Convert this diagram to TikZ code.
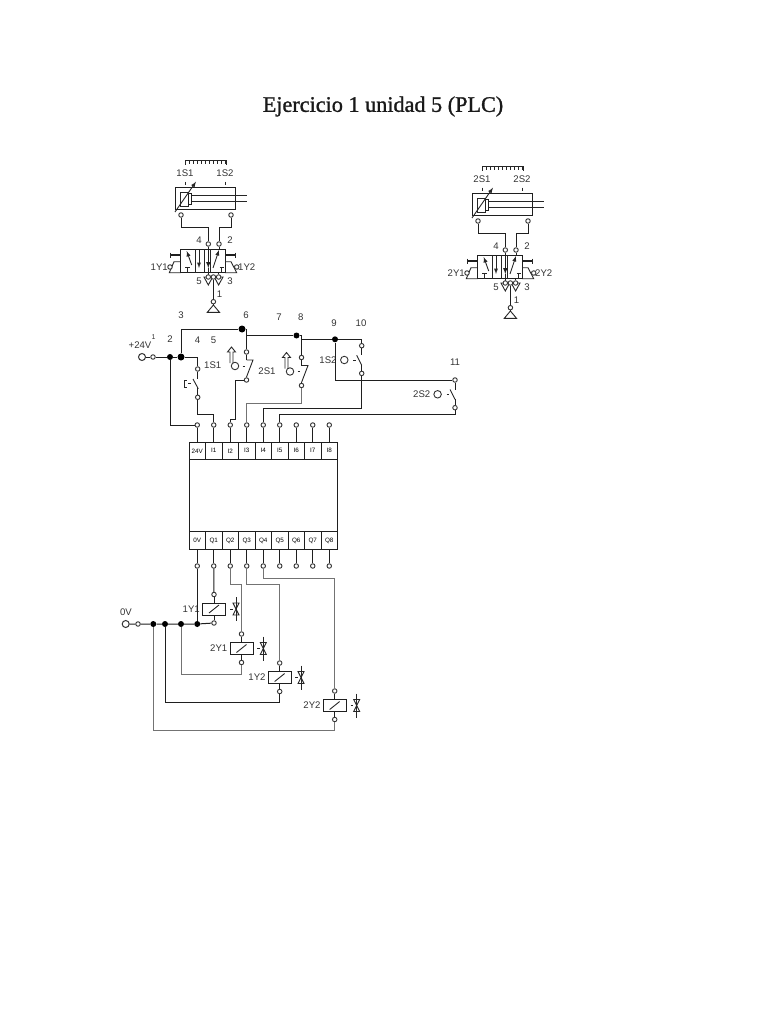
\documentclass[tikz,border=0pt]{standalone}
\usepackage{fontspec}
\setmainfont{Liberation Serif}
\setsansfont{Liberation Sans}
\newfontfamily\titlefont[FakeBold=1.2]{Liberation Serif}
\usetikzlibrary{positioning}
\tikzset{>=latex,
  wire/.style={line width=1pt,draw=black!88},
  greywire/.style={line width=1pt,draw=black!55},
  thin line/.style={line width=0.9pt,draw=black!85},
  term/.style={circle,draw=black!80,line width=0.9pt,fill=white,inner sep=0pt,minimum size=4.5pt},
  bigterm/.style={circle,draw=black!80,line width=1pt,fill=white,inner sep=0pt,minimum size=7pt},
  junction/.style={circle,fill=black,inner sep=0pt,minimum size=6pt},
  lbl/.style={font=\sffamily\fontsize{9.6}{10}\selectfont,text=black!80,inner sep=0pt},
  cell/.style={draw=black!88,line width=1pt,minimum width=16.5pt,minimum height=17.3pt,inner sep=0pt,outer sep=0pt,
    font=\sffamily\fontsize{6.3}{7}\selectfont,text=black},
  coilbox/.style={draw=black!88,line width=1pt,minimum width=23pt,minimum height=12pt,inner sep=0pt,outer sep=0pt}
}
\begin{document}
\begin{tikzpicture}[x=1pt,y=-1pt]
    \useasboundingbox (0,0) rectangle (768,1024);
    \node[font=\titlefont\fontsize{22.2}{24}\selectfont,text=black!90] (title) at (383,106.5) {Ejercicio 1 unidad 5 (PLC)};
    % cylinders and valves
    \foreach \n/\ox/\oy in {1/0/0,2/297/6}{
    \begin{scope}[shift={(\ox,\oy)}]
    \draw[thin line] (185,165) -- (185,160.7) -- (226,160.7) -- (226,165);
    \foreach \k in {189,193,...,225}{\draw[thin line] (\k,160.7) -- (\k,164);}
    \node[lbl] (s\n a) at (185,172.7) {\n S1};
    \node[lbl] (s\n b) at (225,172.7) {\n S2};
    \draw[thin line] (185,181.7) -- (185,185) (225,181.7) -- (225,185);
    \draw[wire] (175,187.3) rectangle (235.7,210);
    \draw[thin line] (180,192.7) rectangle (188.3,206);
    \draw[wire] (188.3,193.3) rectangle (191.7,205);
    \draw[thin line] (191.7,195.7) -- (246.7,195.7) (191.7,201.7) -- (246.7,201.7);
    \draw[thin line,->] (175,212) -- (196,181.7);
    \node[term] (cl\n) at (181,215) {};
    \node[term] (cr\n) at (231,215) {};
    \node[term] (vl\n) at (208.3,244) {};
    \node[term] (vr\n) at (219,244) {};
    \draw[wire] (cl\n) -- ++(0,12.3) -| (vl\n);
    \draw[wire] (cr\n) -- ++(0,12.3) -| (vr\n);
    \node[lbl] (pa\n) at (199,240) {4};
    \node[lbl] (pb\n) at (230,240) {2};
    % valve body
    \draw[wire] (180.7,249) rectangle (225,272.7);
    \draw[thin line] (195.5,249) -- (195.5,272.7) (210,249) -- (210,272.7);
    \draw[thin line,->] (191.7,265) -- (186.7,251);
    \draw[thin line] (185,267.5) -- (190,267.5) (187.5,267.5) -- (187.5,272.7);
    \draw[thin line,->] (199,250) -- (199,268);
    \draw[thin line] (204,249) -- (204,272.7);
    \draw[thin line] (vl\n) -- (208.3,262);
    \draw[wire,->] (208.3,249) -- (208.3,268);
    \draw[thin line] (208.3,268) -- (208.3,277);
    \draw[thin line] (vr\n) -- (219,249);
    \draw[thin line,->] (213,268) -- (219,250);
    \draw[thin line] (219.5,267.5) -- (224,267.5) (221.7,267.5) -- (221.7,272.7);
    % solenoids
    \draw[thin line] (180.7,272.7) -- (169.3,272.7) -- (174,261.7) -- (180.7,261.7);
    \draw[thin line] (225,261.7) -- (231,261.7) -- (236.7,272.7) -- (225,272.7);
    \draw[wire,line width=1.5pt] (170.5,255) -- (180.7,255) (225,255) -- (235.5,255);
    \draw[thin line] (170.5,252.5) -- (170.5,257.5) (235.5,252.5) -- (235.5,257.5);
    \node[term] (sl\n) at (170,267) {};
    \node[term] (sr\n) at (236.7,267) {};
    \node[lbl,anchor=east] (y\n a) at (168,266.7) {\n Y1};
    \node[lbl,anchor=west] (y\n b) at (238,266.7) {\n Y2};
    % exhausts and supply
    \draw[thin line] (204,277) -- (212.7,277) -- (208.3,285) -- cycle;
    \draw[thin line] (214.2,277) -- (223,277) -- (218.6,285) -- cycle;
    \node[term] (ea\n) at (208.3,277) {};
    \node[term] (eb\n) at (218.6,277) {};
    \node[term] (ec\n) at (213.4,277) {};
    \node[term] (su\n) at (213.4,301.7) {};
    \draw[wire] (ec\n) -- (su\n);
    \draw[thin line] (eb\n) -- (218.6,272.7);
    \draw[wire] (213.4,303.5) -- (213.4,305);
    \draw[thin line] (213.4,305) -- (207.3,312.3) -- (219.5,312.3) -- cycle;
    \node[lbl] (pc\n) at (199,281) {5};
    \node[lbl] (pd\n) at (230,281) {3};
    \node[lbl] (pe\n) at (219.5,294) {1};
    \end{scope}
    }
    % plc
    \node[cell,minimum width=148.5pt,minimum height=72.4pt] (plc) at (263.25,495.5) {};
    \foreach \lab [count=\i from 0] in {24V,I1,I2,I3,I4,I5,I6,I7,I8}{
      \node[cell] (in\i) at ({197.25+16.5*\i},450.8) {\lab};
      \node[term] (pi\i) at ({197.25+16.5*\i},425) {};
      \draw[wire] (pi\i) -- (in\i);
    }
    \foreach \lab [count=\i from 0] in {0V,Q1,Q2,Q3,Q4,Q5,Q6,Q7,Q8}{
      \node[cell] (out\i) at ({197.25+16.5*\i},540.5) {\lab};
      \node[term] (po\i) at ({197.25+16.5*\i},566) {};
      \draw[wire] (po\i) -- (out\i);
    }
    % supply side
    \node[lbl] (plus) at (140,345) {+24V};
    \node[lbl,font=\sffamily\fontsize{7}{8}\selectfont] (n1) at (153.5,337) {1};
    \node[lbl] (n2) at (170,339) {2};
    \node[lbl] (n3) at (181,315) {3};
    \node[lbl] (n4) at (197.5,340) {4};
    \node[lbl] (n5) at (213.5,340) {5};
    \node[lbl] (n6) at (246,315) {6};
    \node[lbl] (n7) at (279,317) {7};
    \node[lbl] (n8) at (300.7,317) {8};
    \node[lbl] (n9) at (334,323) {9};
    \node[lbl] (n10) at (361,323) {10};
    \node[lbl] (n11) at (455,362) {11};
    \node[bigterm] (pow) at (142,357) {};
    \node[term] (tp) at (153,357) {};
    \node[junction] (j2) at (170,357) {};
    \node[junction,minimum size=7pt] (j3) at (181,357) {};
    \node[junction,minimum size=7pt] (j6) at (242,329) {};
    \node[junction] (j8) at (296.5,335.5) {};
    \node[junction] (j9) at (335,339.3) {};
    \coordinate (k6) at (246.5,335.5);
    \coordinate (k8) at (301.5,339.3);
    % push button 
    \node[term] (mt) at (197.7,369) {};
    \node[term] (mb) at (197.7,397.3) {};
    \draw[wire] (mt) -- (197.7,379) (mb) -- (197.7,388.3);
    \draw[thin line] (193,379) -- (198.3,388.8);
    \draw[thin line] (186.7,380) -- (184.3,380) -- (184.3,387) -- (186.7,387);
    \draw[thin line] (188,383.5) -- (190.7,383.5);
    % limit switches, closed
    \foreach \n/\x/\y/\lab/\ly in {a/246.5/352/1S1/365,b/301.5/357.5/2S1/371}{
      \node[term] (c\n t) at (\x,\y) {};
      \node[term] (c\n b) at (\x,\y+28) {};
      \node[circle,draw=black!80,line width=0.9pt,inner sep=0pt,minimum size=7.5pt] (c\n o) at (\x-11.5,\y+14) {};
      \draw[wire] (c\n t) -- (\x,\y+8);
      \draw[thin line] (\x,\y+8) -- (\x+6.5,\y+8) -- (\x,\y+25) -- (c\n b);
      \draw[thin line] (\x-4,\y+14) -- (\x-1.5,\y+14);
      \draw[thin line] (\x-16.5,\y+11) -- (\x-16.5,\y) -- (\x-19,\y) -- (\x-15,\y-5) -- (\x-11,\y) -- (\x-13.5,\y) -- (\x-13.5,\y+11);
    }
    \node[lbl] (a1s1) at (212.7,365) {1S1};
    \node[lbl] (a2s1) at (267,371) {2S1};
    % limit switches, open
    \foreach \n/\x/\y in {c/361.7/345.7,d/455/380}{
      \node[term] (s\n t) at (\x,\y) {};
      \node[term] (s\n b) at (\x,\y+27.7) {};
      \node[circle,draw=black!80,line width=0.9pt,inner sep=0pt,minimum size=7.5pt] (s\n o) at (\x-17.4,\y+14.3) {};
      \draw[wire] (s\n t) -- (\x,\y+9.5) (s\n b) -- (\x,\y+19);
      \draw[thin line] (\x-5,\y+9.5) -- (\x,\y+19.5);
      \draw[thin line] (\x-8.4,\y+14.3) -- (\x-6,\y+14.3);
    }
    \node[lbl] (a1s2) at (328,360) {1S2};
    \node[lbl] (a2s2) at (421.7,394) {2S2};
    % wires to the inputs
    \draw[wire] (pow) -- (tp) -- (j2) -- (j3);
    \draw[wire] (j3) -| (mt);
    \draw[wire] (j3) |- (j6);
    \draw[wire] (j6) -| (cat);
    \draw[wire] (k6) -- (j8);
    \draw[wire] (j8) -| (cbt);
    \draw[wire] (k8) -- (j9);
    \draw[wire] (j9) -| (sct);
    \draw[wire] (j9) |- (sdt);
    \draw[wire] (j2) |- (pi0);
    \draw[wire] (mb) -- ++(0,17) -| (pi1);
    \draw[wire] (cab) -- ++(-11.5,0) -- ++(0,39) -- ++(-4.75,0) -- (pi2);
    \draw[greywire] (cbb) -- ++(0,17.5) -| (pi3);
    \draw[wire] (scb) -- ++(0,34.7) -| (pi4);
    \draw[wire] (sdb) -- ++(0,6.5) -| (pi5);
    % coils
    \foreach \n/\x/\y/\lab/\vx in {p/214/609/1Y1/236,q/241.5/648.5/2Y1/263.3,r/279.7/677.5/1Y2/301,u/334.7/705.5/2Y2/356.7}{
      \node[coilbox] (\n box) at (\x,\y) {};
      \node[term] (\n t) at (\x,\y-14.5) {};
      \node[term] (\n b) at (\x,\y+14) {};
      \draw[wire] (\n t) -- (\n box);
      \draw[wire] (\n b) -- (\n box);
      \draw[thin line] (\x-5,\y+4) -- (\x+5,\y-4);
      \node[lbl,left=2.5pt of \n box] (\n lab) {\lab};
      \draw[thin line] (\vx-6,\y) -- (\vx-3.5,\y);
      \draw[thin line] (\vx,\y-12) -- (\vx,\y+12);
      \draw[thin line] (\vx-3,\y-6) -- (\vx+3,\y-6) -- (\vx-3,\y+6) -- (\vx+3,\y+6) -- cycle;
    }
    % earth side
    \node[lbl] (zero) at (126,611.7) {0V};
    \node[bigterm] (gnd) at (125.7,624) {};
    \node[term] (tg) at (138,624) {};
    \node[junction] (ja) at (153.3,624) {};
    \node[junction] (jb) at (165,624) {};
    \node[junction] (jc) at (181,624) {};
    \node[junction] (jd) at (197.25,624) {};
    \draw[wire] (gnd) -- (tg) -- (ja) -- (jb) -- (jc) -- (jd) -- (pb);
    \draw[wire] (po0) -- (jd);
    \draw[wire] (po1) -- (pt);
    \draw[greywire] (po2) -- ++(0,18) -| (qt);
    \draw[greywire] (po3) -- ++(0,18) -| (rt);
    \draw[greywire] (po4) -- ++(0,12.3) -| (ut);
    \draw[greywire] (qb) -- ++(0,12.3) -| (jc);
    \draw[wire] (rb) -- ++(0,11.3) -| (jb);
    \draw[greywire] (ub) -- ++(0,10.7) -| (ja);
\end{tikzpicture}
\end{document}
